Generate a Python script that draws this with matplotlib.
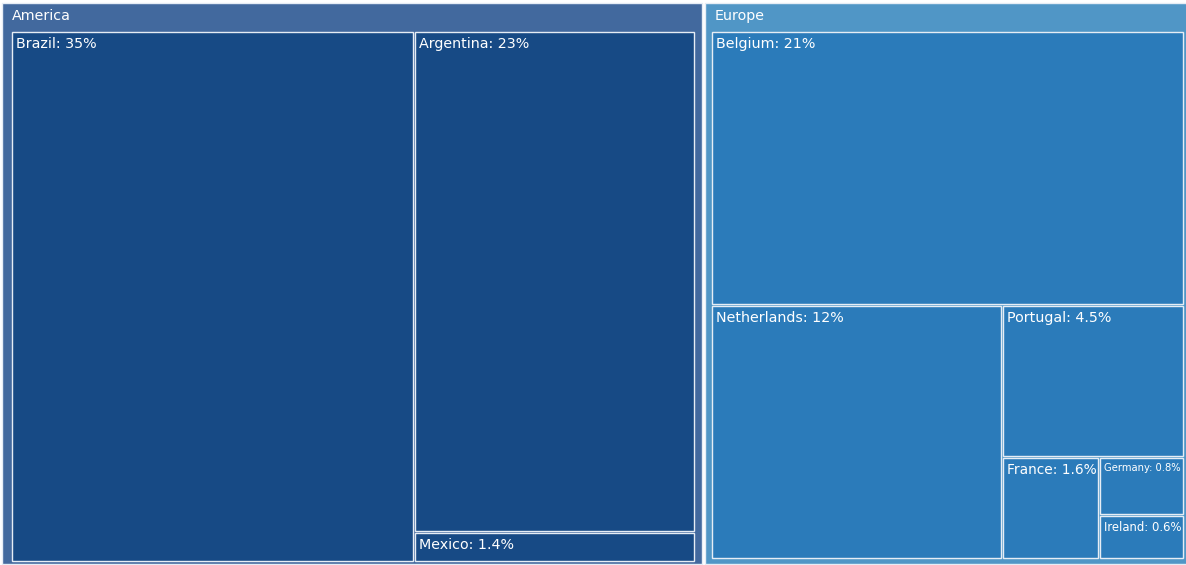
import matplotlib
matplotlib.use("Agg")
import matplotlib.pyplot as plt
from matplotlib.patches import Rectangle

regions = ["America", "Europe"]
countries = [
    ["Brazil", "Argentina", "Mexico"],
    ["Belgium", "Netherlands", "Portugal", "France", "Germany", "Ireland"],
]
shares = [
    [35, 23, 1.4],
    [21, 12, 4.5, 1.6, 0.8, 0.6],
]
labels = [
    ["35%", "23%", "1.4%"],
    ["21%", "12%", "4.5%", "1.6%", "0.8%", "0.6%"],
]
header_colors = ["#42699e", "#5096c6"]
tile_colors = ["#174a85", "#2b7bba"]
edge = "#e6edf5"

W, H = 1186, 565


def worst(row, side):
    s = sum(row)
    return max(max(side * side * r / (s * s), s * s / (side * side * r)) for r in row)


def squarify(vals, x, y, w, h):
    total = sum(vals)
    areas = [v * w * h / total for v in vals]
    rects = []
    i = 0
    while i < len(areas):
        side = min(w, h)
        row = [areas[i]]
        j = i + 1
        while j < len(areas) and worst(row + [areas[j]], side) <= worst(row, side):
            row.append(areas[j])
            j += 1
        s = sum(row)
        if w >= h:
            cw = s / h
            cy = y
            for a in row:
                rects.append((x, cy, cw, a / cw))
                cy += a / cw
            x += cw
            w -= cw
        else:
            rh = s / w
            cx = x
            for a in row:
                rects.append((cx, y, a / rh, rh))
                cx += a / rh
            y += rh
            h -= rh
        i = j
    return rects


fig = plt.figure(figsize=(W / 100, H / 100), dpi=100)
ax = fig.add_axes([0, 0, 1, 1])
ax.set_xlim(0, W)
ax.set_ylim(H, 0)
ax.axis("off")
renderer = fig.canvas.get_renderer()


def put_label(text, x, y, w, size):
    t = ax.text(x + 4, y + 5, text, color="white", fontsize=size,
                ha="left", va="top", family="DejaVu Sans")
    tw = t.get_window_extent(renderer).width
    if tw > w - 6:
        t.set_fontsize(size * (w - 6) / tw)
    return t


totals = [sum(s) for s in shares]
parents = squarify(totals, 1, 3, 1187, 561)

# outer trim (left, right) and inner padding (left, right, bottom) per region
trim = [(1, 5), (-2, 1)]
pad = [(9, 7, 2), (6, 3, 5)]

for k, (px, py, pw, ph) in enumerate(parents):
    left = px + trim[k][0]
    right = px + pw - trim[k][1]
    ax.add_patch(Rectangle((left, py), right - left, ph, facecolor=header_colors[k],
                           edgecolor=edge, lw=1))
    ax.text(left + 10, py + 13, regions[k], color="white", fontsize=10.3,
            ha="left", va="center", family="DejaVu Sans")
    ix, iy = left + pad[k][0], py + 28
    iw, ih = right - pad[k][1] - ix, ph - 28 - pad[k][2]
    kids = squarify(shares[k], ix, iy, iw, ih)
    for n, (cx, cy, cw, ch) in enumerate(kids):
        ax.add_patch(Rectangle((cx + 1, cy + 1), cw - 2, ch - 2,
                               facecolor=tile_colors[k], edgecolor=edge, lw=1))
        put_label(f"{countries[k][n]}: {labels[k][n]}", cx + 1, cy + 1, cw - 2, 10.3)

fig.savefig("out.png", dpi=100)
